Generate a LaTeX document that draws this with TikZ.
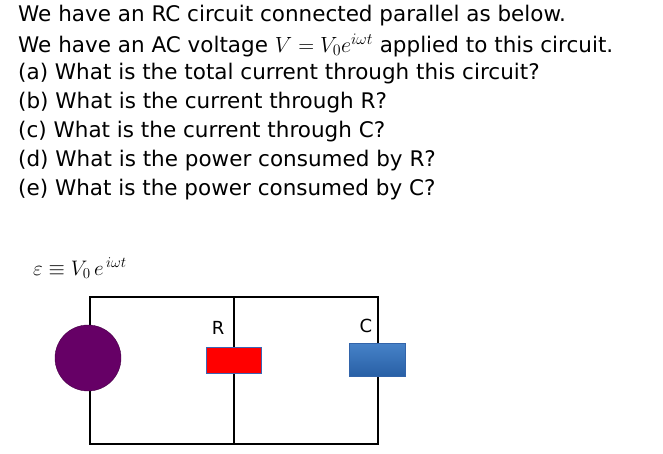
\documentclass[tikz,border=0pt]{standalone}
\usepackage{fix-cm}
\usepackage{fontspec}
\setmainfont{DejaVu Sans}
\DeclareMathSizes{21.5}{22}{16}{12}
\DeclareMathSizes{20}{21}{15}{11}
\begin{document}
\begin{tikzpicture}[x=1pt,y=-1pt,
  qline/.style={anchor=west,font=\fontsize{21.5}{22}\selectfont,inner sep=0pt},
  wire/.style={line width=2pt,black},
  lbl/.style={font=\fontsize{18}{18}\selectfont,inner sep=0pt}]
\useasboundingbox (0,0) rectangle (663,453);
\node[qline] (l1) at (18,16) {We have an RC circuit connected parallel as below.};
\node[qline] (l2) at (18,45) {We have an AC voltage $V=V_0e^{i\omega t}$ applied to this circuit.};
\node[qline] (l3) at (18,74) {(a) What is the total current through this circuit?};
\node[qline] (l4) at (18,103) {(b) What is the current through R?};
\node[qline] (l5) at (18,132) {(c) What is the current through C?};
\node[qline] (l6) at (18,161) {(d) What is the power consumed by R?};
\node[qline] (l7) at (18,190) {(e) What is the power consumed by C?};
\node[anchor=west,inner sep=0pt,font=\fontsize{20}{20}\selectfont] (eq) at (33,268) {$\varepsilon\equiv V_{\!\,0}\,e^{\,i\omega t}$};
\coordinate (tl) at (90,297); \coordinate (tr) at (378,297);
\coordinate (bl) at (90,444); \coordinate (br) at (378,444);
\coordinate (tm) at (234,297); \coordinate (bm) at (234,444);
\draw[wire] (tl) rectangle (br);
\draw[wire] (tm) -- (bm);
\node[circle,fill={rgb,255:red,102;green,0;blue,102},draw={rgb,255:red,70;green,0;blue,70},minimum size=66pt,inner sep=0pt] (src) at (88,358) {};
\node[rectangle,fill=red,draw={rgb,255:red,60;green,100;blue,180},minimum width=55pt,minimum height=26pt,inner sep=0pt] (R) at (234,360) {};
\node[rectangle,top color={rgb,255:red,70;green,130;blue,200},bottom color={rgb,255:red,40;green,95;blue,165},draw={rgb,255:red,50;green,100;blue,170},minimum width=56pt,minimum height=33pt,inner sep=0pt] (C) at (377,360) {};
\node[lbl] (Rl) at (218,328) {R};
\node[lbl] (Cl) at (366,326) {C};
\end{tikzpicture}
\end{document}
